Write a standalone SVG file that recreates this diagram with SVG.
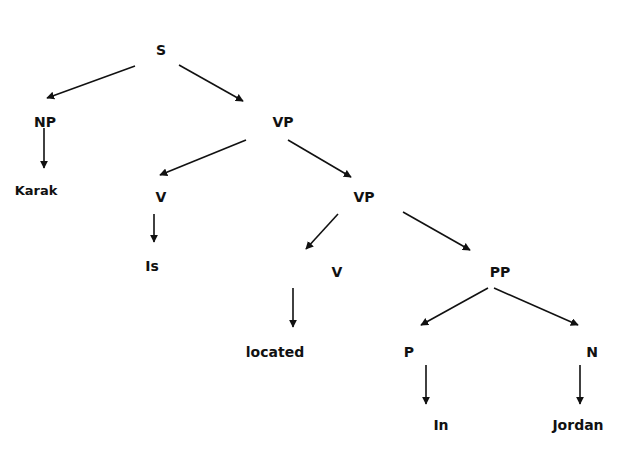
<svg xmlns="http://www.w3.org/2000/svg" width="624" height="464" viewBox="0 0 624 464">
<style>
text{font-family:"DejaVu Sans",Verdana,sans-serif;font-weight:bold;font-size:14px;fill:#111;text-anchor:middle}
line{stroke:#111;stroke-width:1.6;marker-end:url(#a)}
</style>
<defs><marker id="a" viewBox="0 0 10 10" refX="9" refY="5" markerWidth="8" markerHeight="8" markerUnits="userSpaceOnUse" orient="auto"><path d="M0,0L10,5L0,10z" fill="#111"/></marker></defs>
<rect width="624" height="464" fill="#fff"/>
<g id="connectors">
<line x1="135" y1="66" x2="47" y2="98"/>
<line x1="179" y1="65" x2="243" y2="101"/>
<line x1="44" y1="128" x2="44" y2="168"/>
<line x1="246" y1="140" x2="160" y2="175"/>
<line x1="288" y1="140" x2="351" y2="177"/>
<line x1="154" y1="214" x2="154" y2="242"/>
<line x1="338" y1="214" x2="306" y2="249"/>
<line x1="403" y1="212" x2="470" y2="250"/>
<line x1="293" y1="288" x2="293" y2="327"/>
<line x1="488" y1="288" x2="421" y2="325"/>
<line x1="494" y1="288" x2="578" y2="325"/>
<line x1="426" y1="365" x2="426" y2="404"/>
<line x1="580" y1="365" x2="580" y2="404"/>
</g>
<g id="S"><text x="161" y="55">S</text></g>
<g id="NP"><text x="45" y="127">NP</text></g>
<g id="Karak"><text x="36" y="195" style="font-size:13px">Karak</text></g>
<g id="VP1"><text x="283" y="127">VP</text></g>
<g id="V1"><text x="161" y="202">V</text></g>
<g id="Is"><text x="152" y="271">Is</text></g>
<g id="VP2"><text x="364" y="202">VP</text></g>
<g id="V2"><text x="337" y="277">V</text></g>
<g id="located"><text x="275" y="357">located</text></g>
<g id="PP"><text x="500" y="277">PP</text></g>
<g id="P"><text x="409" y="357">P</text></g>
<g id="N"><text x="592" y="357">N</text></g>
<g id="In"><text x="441" y="430">In</text></g>
<g id="Jordan"><text x="578" y="430">Jordan</text></g>
</svg>
